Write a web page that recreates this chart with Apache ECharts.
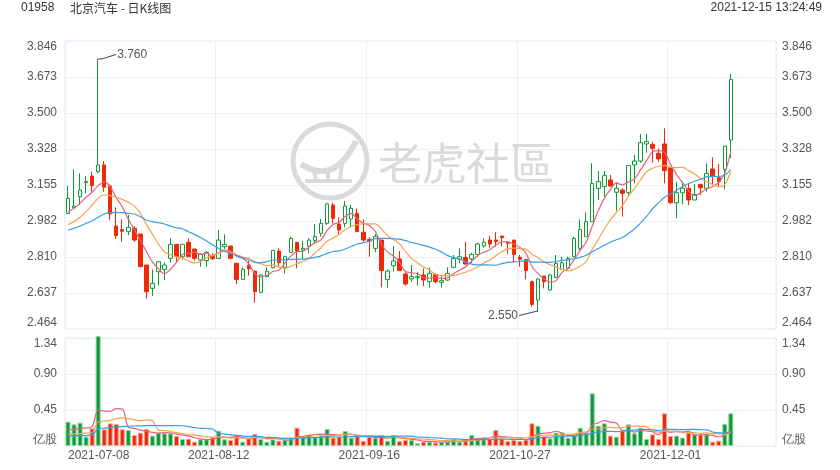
<!DOCTYPE html>
<html>
<head>
<meta charset="utf-8">
<script src="https://cdn.jsdelivr.net/npm/echarts@6/dist/echarts.min.js"></script>
<style>
  html, body { margin: 0; padding: 0; background: #fff; }
  #main { width: 840px; height: 470px; }
</style>
</head>
<body>
<div id="main"></div>
<script>
// trading days shown
var dates = [
  '2021-07-08','2021-07-09','2021-07-12','2021-07-13','2021-07-14','2021-07-15','2021-07-16','2021-07-19','2021-07-20','2021-07-21',
  '2021-07-22','2021-07-23','2021-07-26','2021-07-27','2021-07-28','2021-07-29','2021-07-30','2021-08-02','2021-08-03','2021-08-04',
  '2021-08-05','2021-08-06','2021-08-09','2021-08-10','2021-08-11','2021-08-12','2021-08-13','2021-08-16','2021-08-17','2021-08-18',
  '2021-08-19','2021-08-20','2021-08-23','2021-08-24','2021-08-25','2021-08-26','2021-08-27','2021-08-30','2021-08-31','2021-09-01',
  '2021-09-02','2021-09-03','2021-09-06','2021-09-07','2021-09-08','2021-09-09','2021-09-10','2021-09-13','2021-09-14','2021-09-15',
  '2021-09-16','2021-09-17','2021-09-20','2021-09-21','2021-09-23','2021-09-24','2021-09-27','2021-09-28','2021-09-29','2021-09-30',
  '2021-10-04','2021-10-05','2021-10-06','2021-10-07','2021-10-08','2021-10-11','2021-10-12','2021-10-15','2021-10-18','2021-10-19',
  '2021-10-20','2021-10-21','2021-10-22','2021-10-25','2021-10-26','2021-10-27','2021-10-28','2021-10-29','2021-11-01','2021-11-02',
  '2021-11-03','2021-11-04','2021-11-05','2021-11-08','2021-11-09','2021-11-10','2021-11-11','2021-11-12','2021-11-15','2021-11-16',
  '2021-11-17','2021-11-18','2021-11-19','2021-11-22','2021-11-23','2021-11-24','2021-11-25','2021-11-26','2021-11-29','2021-11-30',
  '2021-12-01','2021-12-02','2021-12-03','2021-12-06','2021-12-07','2021-12-08','2021-12-09','2021-12-10','2021-12-13','2021-12-14',
  '2021-12-15'
];
var opens = [
  3.019,3.046,3.099,3.166,3.198,3.219,3.251,3.150,2.958,2.941,
  2.931,2.947,2.920,2.771,2.659,2.739,2.750,2.803,2.870,2.811,
  2.880,2.848,2.795,2.792,2.813,2.803,2.859,2.862,2.779,2.702,
  2.771,2.742,2.640,2.715,2.758,2.838,2.760,2.832,2.880,2.843,
  2.862,2.888,2.923,2.971,3.059,2.968,2.971,2.992,3.019,2.928,
  2.894,2.851,2.891,2.702,2.768,2.800,2.728,2.704,2.710,2.723,
  2.691,2.726,2.688,2.699,2.760,2.800,2.808,2.800,2.822,2.862,
  2.891,2.891,2.910,2.880,2.891,2.808,2.798,2.691,2.603,2.718,
  2.651,2.712,2.750,2.755,2.811,2.851,2.907,2.979,3.139,3.147,
  3.179,3.120,3.131,3.118,3.251,3.270,3.352,3.350,3.307,3.352,
  3.238,3.070,3.118,3.139,3.083,3.158,3.139,3.232,3.190,3.230,
  3.371
];
var closes = [
  3.091,3.054,3.131,3.172,3.152,3.251,3.144,3.016,2.912,2.933,
  2.952,2.891,2.763,2.643,2.683,2.787,2.771,2.870,2.811,2.870,
  2.811,2.803,2.822,2.832,2.801,2.891,2.870,2.803,2.702,2.750,
  2.753,2.643,2.723,2.742,2.841,2.782,2.811,2.899,2.840,2.851,
  2.891,2.907,2.971,3.064,2.995,2.939,3.054,3.043,2.931,2.891,
  2.886,2.907,2.744,2.742,2.790,2.744,2.680,2.715,2.715,2.699,
  2.731,2.691,2.696,2.731,2.803,2.811,2.776,2.822,2.872,2.880,
  2.872,2.883,2.902,2.875,2.822,2.798,2.744,2.582,2.704,2.691,
  2.723,2.779,2.782,2.803,2.899,2.942,2.979,3.163,3.171,3.200,
  3.150,3.139,3.115,3.248,3.270,3.358,3.363,3.331,3.280,3.224,
  3.070,3.118,3.139,3.083,3.110,3.142,3.211,3.195,3.171,3.342,
  3.662
];
var lows = [
  3.015,3.040,3.059,3.115,3.123,3.211,3.123,2.987,2.896,2.883,
  2.915,2.883,2.763,2.609,2.622,2.672,2.699,2.782,2.787,2.798,
  2.808,2.792,2.763,2.763,2.795,2.800,2.848,2.798,2.680,2.702,
  2.720,2.590,2.640,2.712,2.755,2.763,2.731,2.830,2.755,2.800,
  2.827,2.875,2.907,2.963,2.971,2.920,2.952,2.952,2.931,2.883,
  2.811,2.832,2.664,2.662,2.739,2.744,2.672,2.691,2.672,2.670,
  2.662,2.683,2.662,2.696,2.755,2.779,2.771,2.779,2.811,2.854,
  2.854,2.859,2.859,2.824,2.782,2.763,2.702,2.571,2.550,2.659,
  2.648,2.707,2.747,2.750,2.808,2.843,2.907,2.979,3.083,3.099,
  3.147,3.032,3.003,3.107,3.163,3.262,3.310,3.262,3.267,3.163,
  3.064,2.995,3.062,3.059,3.083,3.107,3.123,3.155,3.150,3.134,
  3.283
];
var highs = [
  3.150,3.230,3.211,3.198,3.219,3.760,3.270,3.158,3.048,2.990,
  3.011,2.958,2.920,2.771,2.750,2.787,2.784,2.899,2.870,2.870,
  2.899,2.848,2.827,2.838,2.827,2.939,2.918,2.862,2.782,2.760,
  2.792,2.742,2.728,2.760,2.843,2.851,2.816,2.907,2.880,2.886,
  2.899,2.968,2.992,3.070,3.070,3.000,3.078,3.059,3.043,2.990,
  2.904,2.920,2.891,2.750,2.862,2.838,2.736,2.771,2.739,2.755,
  2.760,2.731,2.723,2.760,2.819,2.851,2.883,2.830,2.878,2.899,
  2.910,2.928,2.912,2.883,2.891,2.819,2.800,2.696,2.707,2.718,
  2.728,2.819,2.811,2.811,2.907,2.990,3.024,3.259,3.222,3.222,
  3.203,3.166,3.139,3.251,3.299,3.400,3.400,3.363,3.331,3.427,
  3.238,3.171,3.171,3.163,3.160,3.160,3.259,3.288,3.256,3.342,
  3.688
];
var ma5 = [
  3.027,3.043,3.067,3.096,3.120,3.152,3.170,3.147,3.095,3.051,
  2.991,2.941,2.890,2.836,2.786,2.753,2.729,2.751,2.784,2.822,
  2.827,2.833,2.823,2.828,2.814,2.830,2.843,2.839,2.813,2.803,
  2.776,2.730,2.714,2.722,2.740,2.746,2.780,2.815,2.835,2.837,
  2.858,2.878,2.892,2.937,2.966,2.975,3.005,3.019,2.992,2.972,
  2.961,2.932,2.872,2.834,2.814,2.785,2.740,2.734,2.729,2.711,
  2.708,2.710,2.706,2.710,2.730,2.746,2.763,2.789,2.817,2.832,
  2.844,2.866,2.882,2.882,2.871,2.856,2.828,2.764,2.730,2.704,
  2.689,2.696,2.736,2.756,2.797,2.841,2.881,2.957,3.031,3.091,
  3.133,3.165,3.155,3.170,3.184,3.226,3.271,3.314,3.320,3.311,
  3.254,3.205,3.166,3.127,3.104,3.118,3.137,3.148,3.166,3.212,
  3.316
];
var ma10 = [
  2.966,2.979,3.000,3.027,3.059,3.091,3.107,3.104,3.096,3.086,
  3.072,3.055,3.019,2.966,2.919,2.872,2.835,2.821,2.810,2.804,
  2.790,2.781,2.787,2.806,2.818,2.828,2.838,2.831,2.821,2.809,
  2.803,2.787,2.777,2.768,2.772,2.761,2.755,2.765,2.778,2.789,
  2.802,2.829,2.854,2.886,2.901,2.917,2.941,2.956,2.965,2.969,
  2.968,2.968,2.945,2.913,2.893,2.873,2.836,2.803,2.781,2.762,
  2.747,2.725,2.720,2.719,2.721,2.727,2.737,2.748,2.763,2.781,
  2.795,2.815,2.835,2.850,2.852,2.850,2.847,2.823,2.806,2.787,
  2.772,2.762,2.750,2.743,2.751,2.765,2.788,2.847,2.893,2.944,
  2.987,3.023,3.056,3.101,3.138,3.179,3.218,3.235,3.245,3.248,
  3.240,3.238,3.240,3.224,3.208,3.186,3.171,3.157,3.146,3.158,
  3.217
];
var ma20 = [
  2.939,2.947,2.958,2.971,2.982,3.000,3.016,3.022,3.022,3.022,
  3.019,3.016,3.003,2.987,2.979,2.974,2.968,2.958,2.950,2.945,
  2.931,2.918,2.903,2.886,2.868,2.850,2.837,2.826,2.815,2.806,
  2.796,2.784,2.782,2.787,2.795,2.795,2.797,2.798,2.799,2.799,
  2.803,2.808,2.815,2.827,2.836,2.839,2.848,2.860,2.872,2.879,
  2.885,2.898,2.899,2.899,2.897,2.895,2.888,2.879,2.873,2.865,
  2.857,2.847,2.833,2.816,2.807,2.800,2.786,2.775,2.772,2.772,
  2.771,2.770,2.778,2.784,2.786,2.789,2.792,2.785,2.785,2.784,
  2.784,2.788,2.793,2.796,2.801,2.808,2.818,2.835,2.850,2.866,
  2.880,2.892,2.903,2.922,2.944,2.972,3.003,3.041,3.069,3.096,
  3.113,3.130,3.148,3.162,3.173,3.183,3.194,3.196,3.196,3.203,
  3.229
];
// volume, 亿股
var volumes = [
  0.303,0.270,0.291,0.116,0.220,1.370,0.208,0.282,0.274,0.208,
  0.199,0.137,0.166,0.212,0.129,0.166,0.158,0.158,0.125,0.087,
  0.091,0.054,0.083,0.083,0.108,0.191,0.083,0.075,0.137,0.054,
  0.095,0.149,0.087,0.054,0.083,0.066,0.075,0.104,0.228,0.116,
  0.137,0.116,0.137,0.212,0.104,0.116,0.187,0.104,0.137,0.066,
  0.116,0.104,0.137,0.066,0.137,0.062,0.075,0.075,0.033,0.054,
  0.054,0.042,0.054,0.054,0.087,0.054,0.083,0.137,0.095,0.108,
  0.087,0.199,0.095,0.062,0.075,0.062,0.075,0.282,0.253,0.125,
  0.095,0.166,0.166,0.104,0.137,0.228,0.166,0.656,0.253,0.282,
  0.129,0.116,0.191,0.270,0.158,0.228,0.087,0.145,0.087,0.407,
  0.125,0.129,0.104,0.166,0.149,0.145,0.145,0.054,0.066,0.274,
  0.407
];
var vma5 = [
  0.200,0.210,0.220,0.225,0.240,0.447,0.435,0.433,0.465,0.462,
  0.234,0.220,0.197,0.184,0.169,0.162,0.166,0.165,0.147,0.139,
  0.124,0.103,0.088,0.080,0.084,0.104,0.110,0.108,0.119,0.108,
  0.089,0.102,0.104,0.088,0.094,0.088,0.073,0.076,0.111,0.118,
  0.132,0.140,0.147,0.144,0.141,0.137,0.151,0.145,0.130,0.122,
  0.122,0.105,0.112,0.098,0.112,0.101,0.095,0.083,0.076,0.060,
  0.058,0.052,0.047,0.052,0.058,0.058,0.066,0.083,0.091,0.095,
  0.102,0.125,0.117,0.110,0.104,0.099,0.074,0.111,0.149,0.159,
  0.166,0.184,0.161,0.131,0.134,0.160,0.160,0.258,0.288,0.317,
  0.297,0.287,0.194,0.198,0.173,0.193,0.187,0.178,0.141,0.191,
  0.170,0.179,0.170,0.186,0.135,0.139,0.142,0.132,0.112,0.137,
  0.189
];
var vma10 = [
  0.145,0.150,0.155,0.160,0.165,0.300,0.310,0.320,0.340,0.351,
  0.341,0.328,0.315,0.325,0.316,0.198,0.193,0.181,0.166,0.154,
  0.143,0.135,0.127,0.114,0.112,0.115,0.107,0.099,0.100,0.097,
  0.097,0.107,0.107,0.104,0.102,0.089,0.088,0.091,0.100,0.106,
  0.110,0.107,0.112,0.128,0.130,0.135,0.146,0.146,0.137,0.132,
  0.130,0.129,0.129,0.114,0.117,0.112,0.101,0.098,0.088,0.087,
  0.081,0.075,0.067,0.066,0.061,0.060,0.061,0.067,0.073,0.078,
  0.081,0.097,0.101,0.102,0.101,0.102,0.101,0.116,0.132,0.134,
  0.135,0.132,0.139,0.143,0.149,0.166,0.175,0.212,0.212,0.228,
  0.231,0.226,0.229,0.246,0.248,0.248,0.240,0.189,0.172,0.185,
  0.185,0.186,0.177,0.167,0.166,0.158,0.164,0.155,0.153,0.140,
  0.168
];
var vma20 = [
  0.125,0.127,0.130,0.130,0.135,0.215,0.222,0.230,0.237,0.242,
  0.246,0.249,0.251,0.253,0.253,0.254,0.254,0.253,0.253,0.252,
  0.241,0.230,0.220,0.218,0.212,0.155,0.149,0.139,0.132,0.124,
  0.119,0.120,0.116,0.108,0.106,0.101,0.097,0.094,0.099,0.100,
  0.102,0.105,0.108,0.114,0.114,0.110,0.115,0.116,0.116,0.117,
  0.118,0.116,0.119,0.120,0.123,0.123,0.123,0.122,0.112,0.109,
  0.105,0.101,0.097,0.089,0.088,0.085,0.080,0.082,0.080,0.082,
  0.081,0.086,0.084,0.084,0.081,0.081,0.081,0.091,0.102,0.106,
  0.108,0.114,0.120,0.123,0.125,0.134,0.138,0.164,0.172,0.181,
  0.183,0.179,0.184,0.194,0.198,0.206,0.207,0.200,0.192,0.206,
  0.208,0.206,0.203,0.206,0.207,0.203,0.202,0.172,0.163,0.163,
  0.177
];
var priceTicks = ['2.464','2.637','2.810','2.982','3.155','3.328','3.500','3.673','3.846'];
var volTicks = ['亿股','0.45','0.90','1.34'];

var UP = '#0e9a37';
var DOWN = '#ee2a06';
var GRID = '#e8f1f8';
var LABEL = '#555';
var FONT = 'Liberation Sans, Arial, sans-serif';
var MA_COLORS = ['#e8607c', '#f8a24c', '#3d9de3'];

// room on the right for days not traded yet
var cats = dates.concat(['', '', '', '', '', '', '']);
var kData = opens.map(function (o, i) { return [o, closes[i], lows[i], highs[i]]; });
var volData = volumes.map(function (v, i) {
  var up = closes[i] >= opens[i];
  return { value: v, itemStyle: { color: up ? UP : DOWN, borderColor: up ? '#92d4a4' : '#f6a392' } };
});

function every25(i) { return i % 25 === 0; }

function labelAxis(grid, pos, max, ticks, split) {
  return {
    type: 'value', gridIndex: grid, position: pos, min: 0, max: max, interval: 1,
    axisLine: { show: false }, axisTick: { show: false },
    splitLine: { show: split, lineStyle: { color: GRID, width: 1 } },
    axisLabel: {
      color: LABEL, fontSize: 12, fontFamily: FONT, margin: pos === 'left' ? 8 : 6,
      verticalAlignMinLabel: 'bottom', verticalAlignMaxLabel: 'top',
      formatter: function (v) { return ticks[Math.round(v)]; }
    }
  };
}

function maLine(data, color, xi, yi) {
  return {
    type: 'line', xAxisIndex: xi, yAxisIndex: yi, data: data, showSymbol: false, smooth: 0.3,
    silent: true, lineStyle: { width: 1.2, color: color }, itemStyle: { color: color }
  };
}

var chart = echarts.init(document.getElementById('main'));
chart.setOption({
  animation: false,
  backgroundColor: '#fff',
  grid: [
    { left: 65, right: 64, top: 41, height: 288, show: true, borderColor: '#e0ebf5', borderWidth: 1 },
    { left: 65, right: 64, top: 338, height: 108, show: true, borderColor: '#e0ebf5', borderWidth: 1 }
  ],
  xAxis: [
    {
      type: 'category', gridIndex: 0, data: cats, boundaryGap: true,
      axisLine: { show: false }, axisTick: { show: false }, axisLabel: { show: false },
      splitLine: { show: true, interval: every25, lineStyle: { color: GRID } }
    },
    {
      type: 'category', gridIndex: 1, data: cats, boundaryGap: true,
      axisLine: { show: false }, axisTick: { show: false },
      axisLabel: {
        color: LABEL, fontSize: 12, fontFamily: FONT, margin: 4, alignMinLabel: 'left',
        interval: function (i, v) { return i % 25 === 0 && v !== ''; }
      },
      splitLine: { show: true, interval: every25, lineStyle: { color: GRID } }
    }
  ],
  yAxis: [
    { type: 'value', gridIndex: 0, min: 2.464, max: 3.846, show: false },
    labelAxis(0, 'left', 8, priceTicks, true),
    labelAxis(0, 'right', 8, priceTicks, false),
    { type: 'value', gridIndex: 1, min: 0, max: 1.345, show: false },
    labelAxis(1, 'left', 3, volTicks, true),
    labelAxis(1, 'right', 3, volTicks, false)
  ],
  series: [
    {
      type: 'candlestick', xAxisIndex: 0, yAxisIndex: 0, data: kData, barWidth: 4,
      itemStyle: { color: '#fff', color0: DOWN, borderColor: UP, borderColor0: DOWN, borderWidth: 1 }
    },
    maLine(ma5, MA_COLORS[0], 0, 0),
    maLine(ma10, MA_COLORS[1], 0, 0),
    maLine(ma20, MA_COLORS[2], 0, 0),
    {
      type: 'bar', xAxisIndex: 1, yAxisIndex: 3, data: volData, barWidth: 5, clip: false,
      itemStyle: { borderWidth: 1 }
    },
    maLine(vma5, MA_COLORS[0], 1, 3),
    maLine(vma10, MA_COLORS[1], 1, 3),
    maLine(vma20, MA_COLORS[2], 1, 3)
  ]
});

// highest high / lowest low callouts
var hiIdx = highs.indexOf(Math.max.apply(null, highs));
var loIdx = lows.indexOf(Math.min.apply(null, lows));
var hp = chart.convertToPixel({ seriesIndex: 0 }, [hiIdx, highs[hiIdx]]);
var lp = chart.convertToPixel({ seriesIndex: 0 }, [loIdx, lows[loIdx]]);

var WM = '#dadada';
chart.setOption({
  graphic: [
    // watermark
    { type: 'circle', z: 0, silent: true, shape: { cx: 330, cy: 161, r: 37 }, style: { fill: 'none', stroke: WM, lineWidth: 5 } },
    { type: 'bezierCurve', z: 0, silent: true, shape: { x1: 301, y1: 164, cpx1: 334, cpy1: 186, x2: 356, y2: 141 }, style: { fill: 'none', stroke: WM, lineWidth: 6 } },
    { type: 'line', z: 0, silent: true, shape: { x1: 305, y1: 181, x2: 352, y2: 181 }, style: { stroke: WM, lineWidth: 4 } },
    { type: 'line', z: 0, silent: true, shape: { x1: 314, y1: 170, x2: 316, y2: 181 }, style: { stroke: WM, lineWidth: 4 } },
    { type: 'line', z: 0, silent: true, shape: { x1: 328, y1: 170, x2: 328, y2: 181 }, style: { stroke: WM, lineWidth: 4 } },
    { type: 'line', z: 0, silent: true, shape: { x1: 342, y1: 163, x2: 340, y2: 181 }, style: { stroke: WM, lineWidth: 4 } },
    {
      type: 'text', z: 0, silent: true, x: 378, y: 163,
      style: { text: '老虎社區', fill: WM, fontSize: 44, fontFamily: 'Noto Sans CJK TC', verticalAlign: 'middle' }
    },
    // header
    { type: 'text', x: 21, y: 8, style: { text: '01958', fill: '#333', fontSize: 12, fontFamily: FONT, verticalAlign: 'middle' } },
    { type: 'text', x: 70, y: 8, style: { text: '北京汽车 - 日K线图', fill: '#333', fontSize: 12, fontFamily: 'Noto Sans CJK SC', verticalAlign: 'middle' } },
    { type: 'text', x: 822, y: 8, style: { text: '2021-12-15 13:24:49', fill: '#333', fontSize: 12, fontFamily: FONT, align: 'right', verticalAlign: 'middle' } },
    // callouts
    {
      type: 'polyline', z: 10, silent: true,
      shape: { points: [[hp[0], hp[1]], [hp[0] + 4, hp[1]], [hp[0] + 18, hp[1] - 4.5]] },
      style: { fill: 'none', stroke: '#444', lineWidth: 1 }
    },
    {
      type: 'text', z: 10, x: hp[0] + 19, y: hp[1] - 4.5,
      style: { text: highs[hiIdx].toFixed(3), fill: LABEL, fontSize: 12, fontFamily: FONT, verticalAlign: 'middle' }
    },
    {
      type: 'polyline', z: 10, silent: true,
      shape: { points: [[lp[0], lp[1]], [lp[0] - 5, lp[1] + 1], [lp[0] - 19, lp[1] + 4.5]] },
      style: { fill: 'none', stroke: '#444', lineWidth: 1 }
    },
    {
      type: 'text', z: 10, x: lp[0] - 20, y: lp[1] + 4.5,
      style: { text: lows[loIdx].toFixed(3), fill: LABEL, fontSize: 12, fontFamily: FONT, align: 'right', verticalAlign: 'middle' }
    }
  ]
});
</script>
</body>
</html>
